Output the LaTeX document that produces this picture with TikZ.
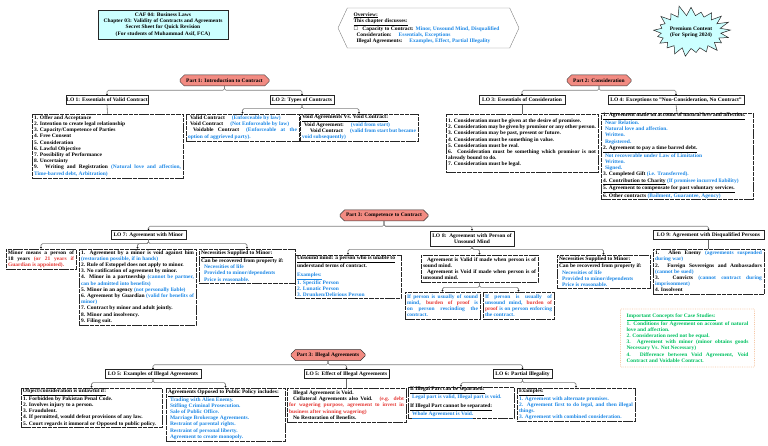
\documentclass[tikz,border=0pt]{standalone}
\usepackage{fontspec}
\setmainfont{Liberation Serif}[FakeStretch=1.04]
\newfontfamily\symfont{DejaVu Sans}
\usetikzlibrary{arrows.meta,shapes.misc,shapes.symbols}
\definecolor{noteblue}{HTML}{1E88E5}
\definecolor{notered}{HTML}{E53935}
\definecolor{notegreen}{HTML}{00C060}
\definecolor{titlecyan}{HTML}{CCFFFF}
\definecolor{partsalmon}{HTML}{F28B82}
\definecolor{conceptedge}{HTML}{F5C6A5}
\newcommand{\bluetxt}[1]{\textcolor{noteblue}{#1}}
\newcommand{\redtxt}[1]{\textcolor{notered}{#1}}
\hyphenpenalty=10000
\exhyphenpenalty=10000
\tolerance=9999
\emergencystretch=20pt
\tikzset{
  basefont/.style={font=\fontsize{5.3}{6.2}\selectfont\bfseries},
  partbox/.style={basefont,draw=black!80,fill=partsalmon,chamfered rectangle,chamfered rectangle xsep=2pt,chamfered rectangle ysep=2.5pt,inner sep=0pt,minimum height=11,line width=0.5pt},
  lobox/.style={basefont,draw=black!85,line width=0.8pt,inner sep=0pt,minimum height=8.5,align=center},
  bodybox/.style={basefont,draw=black!85,line width=0.8pt,dash pattern=on 4.5pt off 0.8pt,inner xsep=2pt,inner ysep=0pt,align=justify},
  branch/.style={draw=black!50,line width=0.6pt,rounded corners=1.5pt,-{Stealth[length=1.5pt,width=2pt,black]}},
  stem/.style={draw=black!60,line width=0.6pt}
}
\begin{document}
\begin{tikzpicture}[x=1pt,y=-1pt]
\useasboundingbox (0,0) rectangle (768,446);
% header
\node[basefont,draw=black!85,line width=0.8pt,fill=titlecyan,minimum width=130,minimum height=29,inner sep=0pt,align=center] (titlebox) at (163,24.5)
  {CAF 04: Business Laws\\Chapter 03: Validity of Contracts and Agreements\\Secret Sheet for Quick Revision\\(For students of Muhammad Asif, FCA)};
\node[basefont,draw=black!50,line width=0.4pt,signal,signal to=west and east,signal pointer angle=130,minimum width=181,minimum height=40,inner xsep=0pt,inner ysep=0pt] (overview) at (428.5,28)
  {\begin{minipage}{150pt}\underline{Overview:}\\\underline{This chapter discusses:}\\{\symfont\fontsize{5}{6}\selectfont ☐}\hspace{3pt} Capacity to Contract: \bluetxt{Minor, Unsound Mind, Disqualified}\\\hspace*{3pt}Consideration:\hspace{7pt}\bluetxt{Essentials, Exceptions}\\\hspace*{3pt}Illegal Agreements:\hspace{7pt}\bluetxt{Examples, Effect, Partial Illegality}\end{minipage}};
\node[basefont,draw=black!85,line width=0.5pt,fill=titlecyan,starburst,starburst points=21,starburst point height=11pt,random starburst=11,minimum width=68pt,minimum height=55pt,inner sep=0pt,align=center] (premium) at (691,32)
  {Premium Content\\(For Spring 2024)};
% part 1
\node[partbox,minimum width=89] (partone) at (224.5,80.5) {Part 1: Introduction to Contract};
\node[lobox,minimum width=82] (loone) at (107,100) {LO 1: Essentials of Valid Contract};
\node[lobox,minimum width=64] (lotwo) at (302,100) {LO 2: Types of Contracts};
\node[bodybox,text width=147,minimum height=64] (bodyone) at (107.5,146)
  {1. Offer and Acceptance\\2. Intention to create legal relationship\\3. Capacity/Competence of Parties\\4. Free Consent\\5. Consideration\\6. Lawful Objective\\7. Possibility of Performance\\8. Uncertainty\\9. Writing and Registration \bluetxt{(Natural love and affection, Time-barred debt, Arbitration)}};
\node[bodybox,text width=109,minimum height=27] (bodytypes) at (242.5,127.5)
  {\hspace*{2pt}Valid Contract\hspace{7pt}\bluetxt{(Enforceable by law)}\\\hspace*{2pt}Void Contract\hspace{7pt}\bluetxt{(Not Enforceable by law)}\\\hspace*{5pt}Voidable Contract\hspace{7pt}\bluetxt{(Enforceable at the option of aggrieved party).}};
\node[bodybox,text width=114,minimum height=27] (bodyversus) at (359,127.5)
  {\underline{Void Agreements Vs. Void Contract:}\\\hspace*{2pt}Void Agreement:\hspace{7pt}\bluetxt{(void from start)}\\\hspace*{8pt}Void Contract\hspace{7pt}\bluetxt{(valid from start but became void subsequently)}};
\draw[branch] (partone.south) -- ++(0,4) -| (loone.north);
\draw[branch] (partone.south) -- ++(0,4) -| (lotwo.north);
\draw[stem] (loone.south) -- (bodyone.north);
\draw[branch] (lotwo.south) -- ++(0,4) -| (bodytypes.north);
\draw[branch] (lotwo.south) -- ++(0,4) -| (bodyversus.north);
% part 2
\node[partbox,minimum width=64] (parttwo) at (599,80.5) {Part 2: Consideration};
\node[lobox,minimum width=86] (lothree) at (522,100) {LO 3: Essentials of Consideration};
\node[lobox,minimum width=136] (lofour) at (676,100) {LO 4: Exceptions to "Non-Consideration, No Contract"};
\node[bodybox,text width=148,minimum height=58] (bodythree) at (522,143)
  {1. Consideration must be given at the desire of promisee.\\2. Consideration may be given by promisor or any other person.\\3. Consideration may be past, present or future.\\4. Consideration must be something in value.\\5. Consideration must be real.\\6. Consideration must be something which promisor is not already bound to do.\\7. Consideration must be legal.};
\node[bodybox,text width=148,minimum height=84] (bodyfour) at (677,156)
  {\underline{1. Agreement made on account of natural love and affection.}\\\hspace*{2pt}\bluetxt{Near Relation.}\\\hspace*{2pt}\bluetxt{Natural love and affection.}\\\hspace*{2pt}\bluetxt{Written.}\\\hspace*{2pt}\bluetxt{Registered.}\\\underline{2. Agreement to pay a time barred debt.}\\\hspace*{2pt}\bluetxt{Not recoverable under Law of Limitation}\\\hspace*{2pt}\bluetxt{Written.}\\\hspace*{2pt}\bluetxt{Signed.}\\3. Completed Gift \bluetxt{(i.e. Transferred).}\\\underline{4. Contribution to Charity} \bluetxt{(If promisee incurred liability)}\\\underline{5. Agreement to compensate for past voluntary services.}\\6. Other contracts \bluetxt{(Bailment, Guarantee, Agency)}};
\draw[branch] (parttwo.south) -- ++(0,4) -| (lothree.north);
\draw[branch] (parttwo.south) -- ++(0,4) -| (lofour.north);
\draw[stem] (lothree.south) -- (bodythree.north);
\draw[stem] (lofour.south) -- (bodyfour.north);
% part 3 competence
\node[partbox,minimum width=88] (partthree) at (384,215.5) {Part 3: Competence to Contract};
\node[lobox,minimum width=75] (loseven) at (148.5,235) {LO 7: Agreement with Minor};
\node[lobox,text width=84,minimum height=15] (loeight) at (472,238.5) {LO 8: Agreement with Person of\\Unsound Mind};
\node[lobox,minimum width=111] (lonine) at (708.5,235) {LO 9: Agreement with Disqualified Persons};
\node[bodybox,text width=66,minimum height=20] (minordef) at (41,259)
  {Minor means a person of 18 years \redtxt{(or 21 years if Guardian is appointed).}};
\node[bodybox,text width=113,minimum height=76] (minorlist) at (137.5,287)
  {1. Agreement by a minor is void against him \bluetxt{(restoration possible, if in hands)}\\2. Rule of Estoppel does not apply to minor.\\3. No ratification of agreement by minor.\\4. Minor in a partnership \bluetxt{(cannot be partner, can be admitted into benefits)}\\5. Minor in an agency \bluetxt{(not personally liable)}\\6. Agreement by Guardian \bluetxt{(valid for benefits of minor)}\\7. Contract by minor and adult jointly.\\8. Minor and insolvency.\\9. Filing suit.};
\node[bodybox,text width=92,minimum height=34] (minorneeds) at (247,266)
  {\underline{Necessities Supplied to Minor:}\\Can be recovered from property if:\\\hspace*{3pt}\bluetxt{Necessities of life}\\\hspace*{3pt}\bluetxt{Provided to minor/dependents}\\\hspace*{3pt}\bluetxt{Price is reasonable.}};
\node[bodybox,text width=102,minimum height=43] (mindef) at (348,276.5)
  {\underline{Unsound mind: a person who is unable to}\\understand terms of contract.\\[3pt]\bluetxt{\underline{Examples:}}\\\bluetxt{1. Specific Person}\\\bluetxt{2. Lunatic Person}\\\bluetxt{3. Drunken/Delirious Person}};
\node[bodybox,text width=113,minimum height=27] (mindvalid) at (479.5,268.5)
  {\hspace*{4pt}Agreement is Valid if made when person is of sound mind.\\\hspace*{4pt}Agreement is Void if made when person is of unsound mind.};
\node[bodybox,text width=89,minimum height=33] (mindneeds) at (603.5,271.5)
  {\underline{Necessities Supplied to Minor:}\\Can be recovered from property if:\\\hspace*{3pt}\bluetxt{Necessities of life}\\\hspace*{3pt}\bluetxt{Provided to minor/dependents}\\\hspace*{3pt}\bluetxt{Price is reasonable.}};
\node[bodybox,text width=71,minimum height=27] (proofone) at (442.5,305.5)
  {\bluetxt{If person is usually of sound mind,} \redtxt{burden of proof} \bluetxt{is on person rescinding the contract.}};
\node[bodybox,text width=67,minimum height=27] (prooftwo) at (518.5,305.5)
  {\bluetxt{If person is usually of unsound mind,} \redtxt{burden of proof} \bluetxt{is on person enforcing the contract.}};
\node[bodybox,text width=107,minimum height=45] (bodynine) at (708.5,271.5)
  {1. Alien Enemy \bluetxt{(agreements suspended during war)}\\2. Foreign Sovereigns and Ambassadors \bluetxt{(cannot be sued)}\\3. Convicts \bluetxt{(cannot contract during imprisonment)}\\4. Insolvent};
\node[basefont,text=notegreen,draw=conceptedge,line width=0.8pt,densely dotted,rounded corners=1pt,text width=122,minimum height=58,inner xsep=6pt,inner ysep=0pt,align=justify] (concepts) at (687.5,338)
  {\underline{Important Concepts for Case Studies:}\\1. Conditions for Agreement on account of natural love and affection.\\2. Consideration need not be equal.\\3. Agreement with minor (minor obtains goods Necessary Vs. Not Necessary)\\4. Difference between Void Agreement, Void Contract and Voidable Contract.};
\draw[branch] (partthree.south) -- ++(0,5) -| (loseven.north);
\draw[branch] (partthree.south) -- ++(0,5) -| (loeight.north);
\draw[branch] (partthree.south) -- ++(0,5) -| (lonine.north);
\draw[branch] (loseven.south) -- ++(0,4) -| (minordef.north);
\draw[branch] (loseven.south) -- ++(0,4) -| (minorlist.north);
\draw[branch] (loseven.south) -- ++(0,4) -| (minorneeds.north);
\draw[branch] (loeight.south) -- ++(0,3) -| (mindef.north);
\draw[branch] (loeight.south) -- ++(0,3) -| (mindvalid.north);
\draw[branch] (loeight.south) -- ++(0,3) -| (mindneeds.north);
\draw[branch] (mindvalid.south) -- ++(0,5) -| (proofone.north);
\draw[branch] (mindvalid.south) -- ++(0,5) -| (prooftwo.north);
\draw[stem] (lonine.south) -- (bodynine.north);
% part 3 illegal
\node[partbox,minimum width=74] (partillegal) at (328,355) {Part 3: Illegal Agreements};
\node[lobox,minimum width=96] (lofive) at (153,374) {LO 5: Examples of Illegal Agreements};
\node[lobox,minimum width=85] (loeffect) at (346.5,374) {LO 5: Effect of Illegal Agreements};
\node[lobox,minimum width=59] (losix) at (522.5,374) {LO 6: Partial Illegality};
\node[bodybox,text width=137,minimum height=39] (unlawful) at (91.5,407.5)
  {\underline{Object/consideration is unlawful if:}\\1. Forbidden by Pakistan Penal Code.\\2. Involves injury to a person.\\3. Fraudulent.\\4. If permitted, would defeat provisions of any law.\\5. Court regards it immoral or Opposed to public policy.};
\node[bodybox,text width=115,minimum height=53] (policy) at (225.5,414.5)
  {\underline{Agreements Opposed to Public Policy includes:}\\\hspace*{2pt}\bluetxt{Trading with Alien Enemy.}\\\hspace*{2pt}\bluetxt{Stifling Criminal Prosecution.}\\\hspace*{2pt}\bluetxt{Sale of Public Office.}\\\hspace*{2pt}\bluetxt{Marriage Brokerage Agreements.}\\\hspace*{2pt}\bluetxt{Restraint of parental rights.}\\\hspace*{2pt}\bluetxt{Restraint of personal liberty.}\\\hspace*{2pt}\bluetxt{Agreement to create monopoly.}};
\node[bodybox,text width=115,minimum height=34] (effect) at (346.5,405)
  {\hspace*{4pt}Illegal Agreement is Void.\\\hspace*{4pt}Collateral Agreements also Void.\hspace{7pt}\redtxt{(e.g. debt for wagering purpose, agreement to invest in business after winning wagering)}\\\hspace*{4pt}No Restoration of Benefits.};
\node[bodybox,text width=102,minimum height=30] (partlegal) at (461,403)
  {\underline{If Illegal Part can be separated:}\\\hspace*{2pt}\bluetxt{Legal part is valid, Illegal part is void.}\\[3pt]\underline{If Illegal Part cannot be separated:}\\\hspace*{2pt}\bluetxt{\underline{Whole Agreement is Void.}}};
\node[bodybox,text width=114,minimum height=33] (partexamples) at (576,404.5)
  {\underline{Examples:}\\\bluetxt{1. Agreement with alternate promises.}\\\bluetxt{2. Agreement first to do legal, and then illegal things.}\\\bluetxt{3. Agreement with combined consideration.}};
\draw[branch] (partillegal.south) -- ++(0,4) -| (lofive.north);
\draw[branch] (partillegal.south) -- ++(0,4) -| (loeffect.north);
\draw[branch] (partillegal.south) -- ++(0,4) -| (losix.north);
\draw[branch] (lofive.south) -- ++(0,4) -| (unlawful.north);
\draw[branch] (lofive.south) -- ++(0,4) -| (policy.north);
\draw[stem] (loeffect.south) -- (effect.north);
\draw[branch] (losix.south) -- ++(0,4) -| (partlegal.north);
\draw[branch] (losix.south) -- ++(0,4) -| (partexamples.north);
\end{tikzpicture}
\end{document}
